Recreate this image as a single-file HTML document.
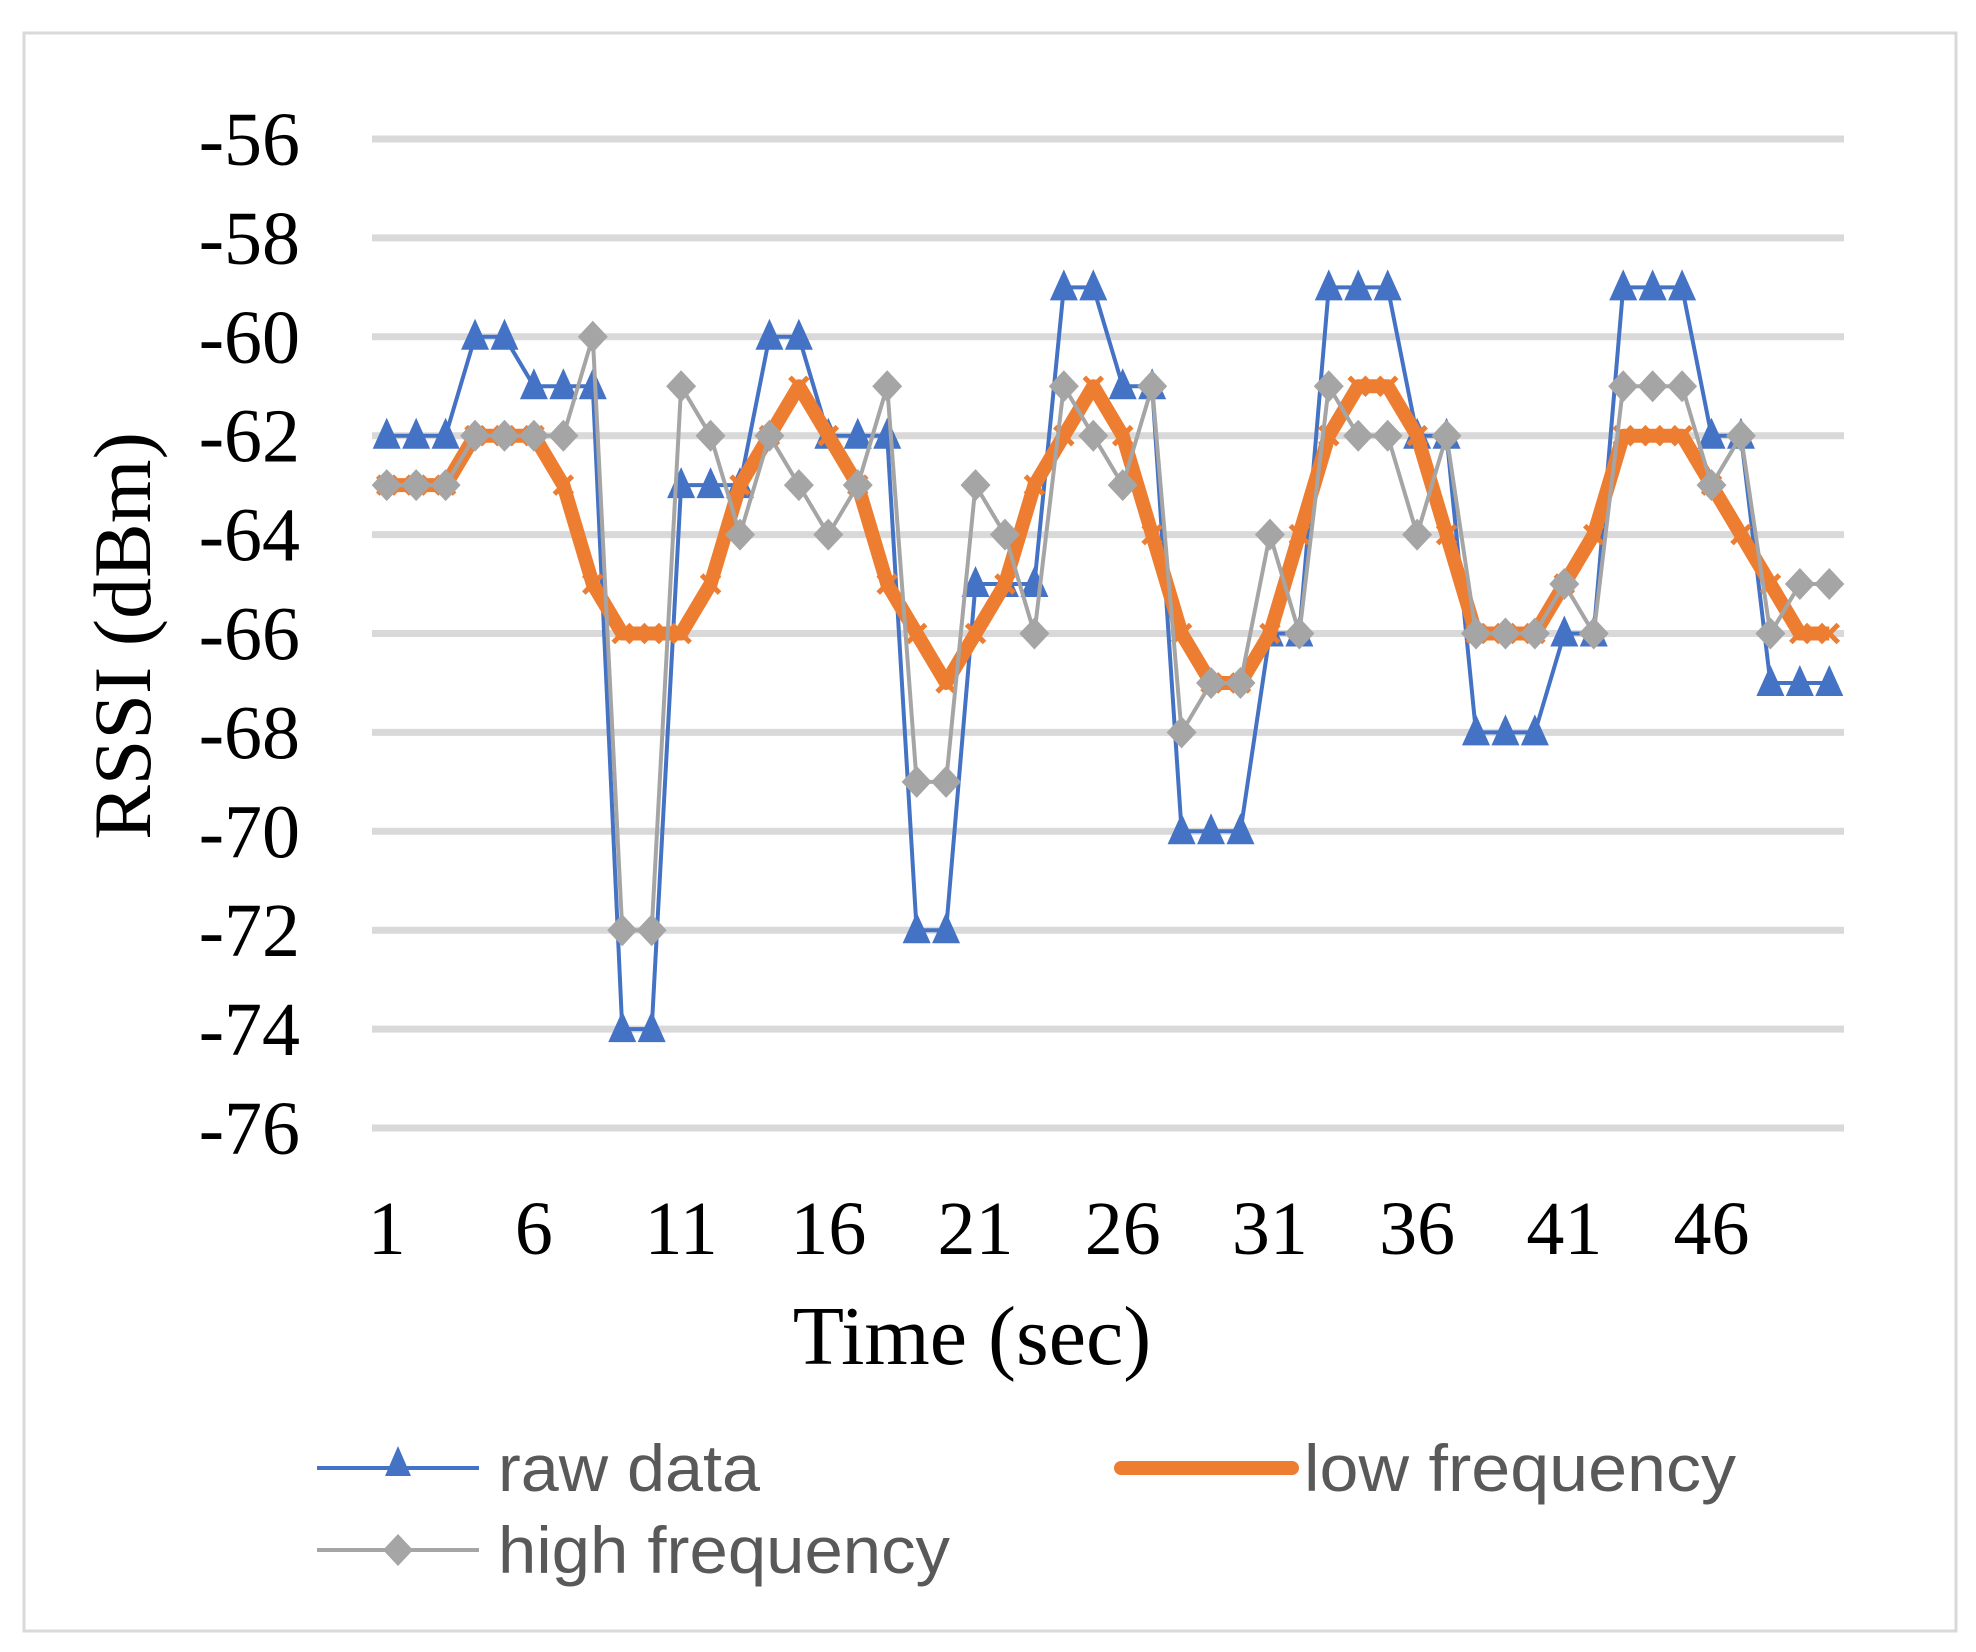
<!DOCTYPE html>
<html><head><meta charset="utf-8"><style>
html,body{margin:0;padding:0;background:#fff}
svg{display:block}
</style></head><body>
<svg id="c" width="1976" height="1652" xmlns="http://www.w3.org/2000/svg">
<rect x="0" y="0" width="1976" height="1652" fill="#fff"/>
<rect x="24" y="33" width="1932" height="1598" fill="none" stroke="#d9d9d9" stroke-width="3"/>
<g id="grid"></g>
<g id="ylab" font-family="Liberation Serif, serif" font-size="76" fill="#000" text-anchor="end"></g>
<g id="xlab" font-family="Liberation Serif, serif" font-size="76" fill="#000" text-anchor="middle"></g>
<text x="972" y="1364" font-family="Liberation Serif, serif" font-size="84" text-anchor="middle">Time (sec)</text>
<text transform="translate(150,636) rotate(-90)" font-family="Liberation Serif, serif" font-size="82" text-anchor="middle">RSSI (dBm)</text>
<g id="series"></g>
<g font-family="Liberation Sans, DejaVu Sans, sans-serif" font-size="66" fill="#595959">
<line x1="317" y1="1468" x2="479" y2="1468" stroke="#4472c4" stroke-width="4"/>
<polygon points="398,1446 385,1476 411,1476" fill="#4472c4"/>
<text x="498" y="1491" textLength="262" lengthAdjust="spacingAndGlyphs">raw data</text>
<line x1="1121" y1="1468" x2="1292" y2="1468" stroke="#ed7d31" stroke-width="14" stroke-linecap="round"/>
<text x="1304" y="1491" textLength="432" lengthAdjust="spacingAndGlyphs">low frequency</text>
<line x1="317" y1="1550" x2="479" y2="1550" stroke="#a5a5a5" stroke-width="4"/>
<polygon points="398,1534 413,1550 398,1566 383,1550" fill="#a5a5a5"/>
<text x="498" y="1573" textLength="452" lengthAdjust="spacingAndGlyphs">high frequency</text>
</g>
</svg>
<script>
var NS="http://www.w3.org/2000/svg";
var L=372,R=1844;
function X(i){return L+(R-L)/50*(i-0.5);}
function Y(v){return 139+(-56-v)*49.45;}
var g=document.getElementById('grid'),yl=document.getElementById('ylab'),xl=document.getElementById('xlab');
for(var v=-56;v>=-76;v-=2){
 var l=document.createElementNS(NS,'line');l.setAttribute('x1',L);l.setAttribute('x2',R);
 l.setAttribute('y1',Y(v));l.setAttribute('y2',Y(v));l.setAttribute('stroke','#d9d9d9');l.setAttribute('stroke-width','7');g.appendChild(l);
 var t=document.createElementNS(NS,'text');t.setAttribute('x',300);t.setAttribute('y',Y(v)+26);t.textContent=String(v);yl.appendChild(t);
}
for(var i=1;i<=46;i+=5){var t=document.createElementNS(NS,'text');t.setAttribute('x',X(i));t.setAttribute('y',1254);t.textContent=i;xl.appendChild(t);}
var raw=[-62,-62,-62,-60,-60,-61,-61,-61,-74,-74,-63,-63,-63,-60,-60,-62,-62,-62,-72,-72,-65,-65,-65,-59,-59,-61,-61,-70,-70,-70,-66,-66,-59,-59,-59,-62,-62,-68,-68,-68,-66,-66,-59,-59,-59,-62,-62,-67,-67,-67];
var low=[-63,-63,-63,-62,-62,-62,-63,-65,-66,-66,-66,-65,-63,-62,-61,-62,-63,-65,-66,-67,-66,-65,-63,-62,-61,-62,-64,-66,-67,-67,-66,-64,-62,-61,-61,-62,-64,-66,-66,-66,-65,-64,-62,-62,-62,-63,-64,-65,-66,-66];
var high=[-63,-63,-63,-62,-62,-62,-62,-60,-72,-72,-61,-62,-64,-62,-63,-64,-63,-61,-69,-69,-63,-64,-66,-61,-62,-63,-61,-68,-67,-67,-64,-66,-61,-62,-62,-64,-62,-66,-66,-66,-65,-66,-61,-61,-61,-63,-62,-66,-65,-65];
var s=document.getElementById('series');
function line(d,col,w){var p=document.createElementNS(NS,'polyline');p.setAttribute('points',d.map(function(v,k){return X(k+1)+','+Y(v)}).join(' '));
 p.setAttribute('fill','none');p.setAttribute('stroke',col);p.setAttribute('stroke-width',w);p.setAttribute('stroke-linejoin','round');s.appendChild(p);}
function poly(pts,col){var p=document.createElementNS(NS,'polygon');p.setAttribute('points',pts);p.setAttribute('fill',col);s.appendChild(p);}
line(raw,'#4472c4',4);
raw.forEach(function(v,k){var x=X(k+1),y=Y(v);poly((x)+','+(y-18)+' '+(x-14)+','+(y+13)+' '+(x+14)+','+(y+13),'#4472c4');});
line(low,'#ed7d31',14);
low.forEach(function(v,k){var x=X(k+1),y=Y(v);var p=document.createElementNS(NS,'path');p.setAttribute('d','M'+(x-9)+' '+(y-9)+'L'+(x+9)+' '+(y+9)+'M'+(x+9)+' '+(y-9)+'L'+(x-9)+' '+(y+9));p.setAttribute('stroke','#ed7d31');p.setAttribute('stroke-width',5);s.appendChild(p);});
line(high,'#a5a5a5',4);
high.forEach(function(v,k){var x=X(k+1),y=Y(v);poly(x+','+(y-16)+' '+(x+15)+','+y+' '+x+','+(y+16)+' '+(x-15)+','+y,'#a5a5a5');});
</script>
</body></html>
